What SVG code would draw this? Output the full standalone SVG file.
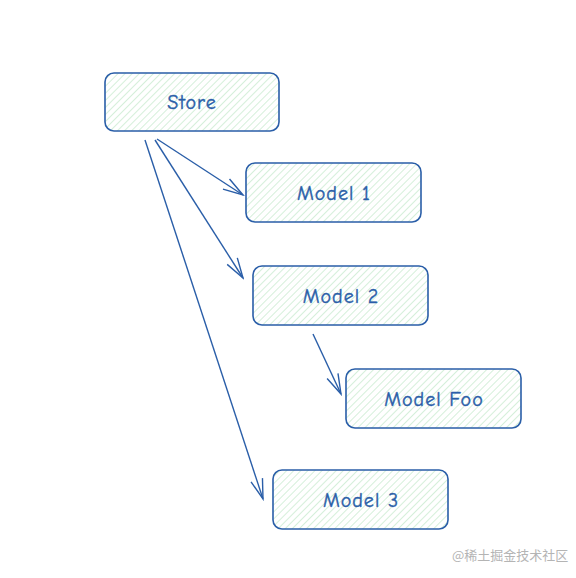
<svg xmlns="http://www.w3.org/2000/svg" width="576" height="578" viewBox="0 0 576 578">
<style>
.box{fill:url(#hatch);stroke:#2a5ea8;stroke-width:1.6}
.lbl{font-family:"Comic Neue","Liberation Sans",sans-serif;font-size:20px;fill:#2a5ea8;stroke:#2a5ea8;stroke-width:0.4;text-anchor:middle;dominant-baseline:central;letter-spacing:1px}
.edge{fill:none;stroke:#2a5ea8;stroke-width:1.4;marker-end:url(#arr)}
.wm{font-family:"Noto Sans CJK SC",sans-serif;font-size:13px;fill:#b4b4b4}
</style>
<defs>
<pattern id="hatch" patternUnits="userSpaceOnUse" width="5" height="5" patternTransform="rotate(45)">
<rect width="5" height="5" fill="#fff"/>
<line x1="0" y1="0" x2="0" y2="5" stroke="#b2e3bb" stroke-width="1.1"/>
</pattern>
<marker id="arr" markerWidth="24" markerHeight="16" refX="22" refY="8" orient="auto" markerUnits="userSpaceOnUse">
<path d="M2,2 L22,8 L2,14" fill="none" stroke="#2a5ea8" stroke-width="1.4"/>
</marker>
</defs>
<rect width="576" height="578" fill="#fff"/>
<g id="connectors">
<line class="edge" x1="157" y1="139" x2="243" y2="195"/>
<line class="edge" x1="155" y1="140" x2="243" y2="278"/>
<line class="edge" x1="145" y1="140" x2="263" y2="499"/>
<line class="edge" x1="313" y1="334" x2="341" y2="394"/>
</g>
<g id="store"><rect class="box" x="105" y="73" width="174" height="58" rx="9"/><text class="lbl" x="192" y="102">Store</text></g>
<g id="model1"><rect class="box" x="246" y="163" width="175" height="59" rx="9"/><text class="lbl" x="334" y="193">Model 1</text></g>
<g id="model2"><rect class="box" x="253" y="266" width="175" height="59" rx="9"/><text class="lbl" x="341" y="296">Model 2</text></g>
<g id="modelfoo"><rect class="box" x="346" y="369" width="175" height="59" rx="9"/><text class="lbl" x="434" y="399">Model Foo</text></g>
<g id="model3"><rect class="box" x="273" y="470" width="175" height="59" rx="9"/><text class="lbl" x="361" y="500">Model 3</text></g>
<text class="wm" x="452" y="560">@稀土掘金技术社区</text>
</svg>
